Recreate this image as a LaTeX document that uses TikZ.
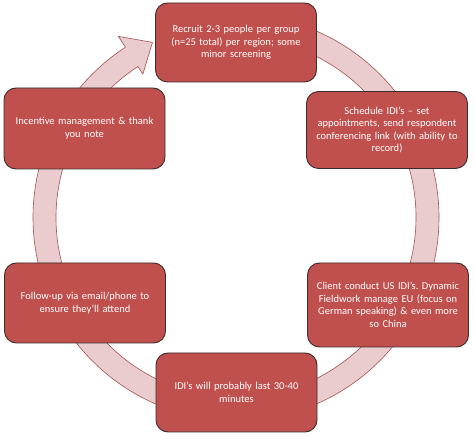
\documentclass[tikz,border=0pt]{standalone}
\usepackage{fontspec}
\setmainfont{Carlito}
\usetikzlibrary{calc}
\frenchspacing
\definecolor{boxred}{RGB}{192,80,77}
\definecolor{boxedge}{RGB}{60,45,45}
\definecolor{bandfill}{RGB}{234,204,206}
\definecolor{bandedge}{RGB}{165,80,80}
\tikzset{
  stepbox/.style={draw=boxedge, line width=0.9pt, fill=boxred, rounded corners=12pt,
    minimum width=161pt, minimum height=79pt, text width=152pt, align=center,
    text=white, font=\fontsize{10.5pt}{12.6pt}\selectfont\frenchspacing, inner sep=0pt},
  band/.style={fill=bandfill, draw=bandedge, line width=0.6pt, line join=round}
}
\begin{document}
\begin{tikzpicture}[x=1pt,y=1pt]
\useasboundingbox (0,0) rectangle (474,439);
\coordinate (C) at (236,221.5);
% circular arrow band
\begin{scope}[shift={(C)}]
\draw[band] (90:203pt) arc[start angle=90, end angle=-237, radius=203pt]
  -- (-237:216pt) -- (-244.5:194pt) -- (-237:171pt) -- (-237:180pt)
  arc[start angle=-237, end angle=90, radius=180pt] -- cycle;
\end{scope}
% boxes
\node[stepbox] (n1) at (236,396.5) {Recruit 2-3 people per group\\(n=25 total) per region; some\\minor screening};
\node[stepbox, minimum height=77pt] (n2) at (387,309) {Schedule IDI’s – set\\appointments, send respondent\\conferencing link (with ability to\\record)};
\node[stepbox, minimum height=84pt] (n3) at (388,134) {Client conduct US IDI’s. Dynamic\\Fieldwork manage EU (focus on\\German speaking) \& even more\\so China};
\node[stepbox] (n4) at (236.5,46.5) {IDI’s will probably last 30-40\\minutes};
\node[stepbox, minimum height=80pt] (n5) at (85,136) {Follow-up via email/phone to\\ensure they’ll attend};
\node[stepbox, minimum height=81pt] (n6) at (84.5,310.5) {Incentive management \& thank\\you note};
\end{tikzpicture}
\end{document}
